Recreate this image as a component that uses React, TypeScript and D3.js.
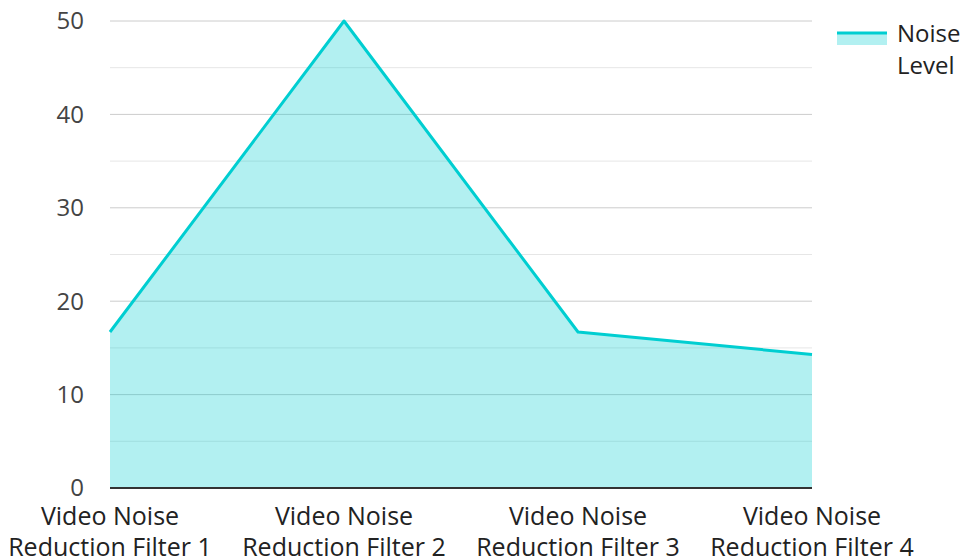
import React from "react";
import * as d3 from "d3";

const categories = [
  "Video Noise Reduction Filter 1",
  "Video Noise Reduction Filter 2",
  "Video Noise Reduction Filter 3",
  "Video Noise Reduction Filter 4",
];
const categoryLines = [
  ["Video Noise", "Reduction Filter 1"],
  ["Video Noise", "Reduction Filter 2"],
  ["Video Noise", "Reduction Filter 3"],
  ["Video Noise", "Reduction Filter 4"],
];
const noiseLevel = [16.7, 50, 16.7, 14.3];
const yTicks = [0, 10, 20, 30, 40, 50];
const minorTicks = [5, 15, 25, 35, 45];
const seriesName = ["Noise", "Level"];

const W = 966;
const H = 560;
const left = 110;
const right = 812;
const top = 21;
const bottom = 488;
const FONT = "'Open Sans', sans-serif";
const LINE = "#00CED1";

export default function App() {
  const x = d3.scalePoint<string>().domain(categories).range([left, right]);
  const y = d3.scaleLinear().domain([0, 50]).range([bottom, top]);
  const data = categories.map((c, i) => ({ c, v: noiseLevel[i] }));
  const area = d3
    .area<{ c: string; v: number }>()
    .x((d) => x(d.c)!)
    .y0(y(0))
    .y1((d) => y(d.v));
  const line = d3
    .line<{ c: string; v: number }>()
    .x((d) => x(d.c)!)
    .y((d) => y(d.v));

  return (
    <svg
      width={W}
      height={H}
      style={{ position: "absolute", left: 0, top: 0, fontFamily: FONT }}
    >
      <rect width={W} height={H} fill="#fff" />
      {minorTicks.map((t) => (
        <line key={"m" + t} x1={left} x2={right} y1={y(t)} y2={y(t)} stroke="#e6e6e6" strokeWidth={1} />
      ))}
      {yTicks.map((t) => (
        <line key={"g" + t} x1={left} x2={right} y1={y(t)} y2={y(t)} stroke="#cccccc" strokeWidth={1} />
      ))}
      <path d={area(data)!} fill={LINE} fillOpacity={0.3} />
      <path d={line(data)!} fill="none" stroke={LINE} strokeWidth={3} strokeLinejoin="round" />
      <line x1={left} x2={right} y1={bottom} y2={bottom} stroke="#333" strokeWidth={2} />
      {yTicks.map((t) => (
        <text key={"t" + t} x={84} y={y(t)} dy="0.35em" textAnchor="end" fontSize={24} fill="#444">
          {t}
        </text>
      ))}
      {categories.map((c, i) => (
        <text key={c} x={x(c)!} textAnchor="middle" fontSize={25} fill="#222">
          <tspan x={x(c)!} y={525}>{categoryLines[i][0]}</tspan>
          <tspan x={x(c)!} y={556}>{categoryLines[i][1]}</tspan>
        </text>
      ))}
      <rect x={837} y={33} width={50} height={12} fill={LINE} fillOpacity={0.3} />
      <line x1={837} x2={887} y1={33} y2={33} stroke={LINE} strokeWidth={3} />
      <text fontSize={24} fill="#222">
        <tspan x={897} y={42}>{seriesName[0]}</tspan>
        <tspan x={897} y={74}>{seriesName[1]}</tspan>
      </text>
    </svg>
  );
}
